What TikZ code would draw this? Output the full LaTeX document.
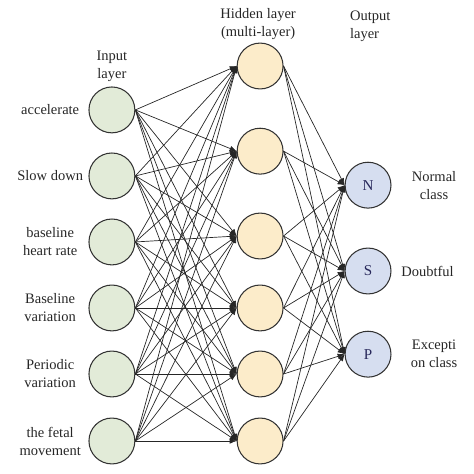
\documentclass[tikz,border=0pt]{standalone}
\usepackage{fontspec}
\setmainfont{Liberation Serif}
\usepackage{tikz}
\usetikzlibrary{arrows.meta, positioning}

\definecolor{inpgreen}{RGB}{226, 235, 216}
\definecolor{hidyellow}{RGB}{252, 236, 202}
\definecolor{outblue}{RGB}{214, 222, 240}
\definecolor{rimgray}{RGB}{50, 50, 50}

\tikzset{
  neuron/.style={circle, draw=rimgray, line width=0.9pt, minimum size=1.39cm, inner sep=0pt},
  inneuron/.style={neuron, fill=inpgreen},
  hidneuron/.style={neuron, fill=hidyellow},
  outneuron/.style={neuron, fill=outblue, font=\fontsize{13}{15}\selectfont, text=rimgray!80!blue},
  lbl/.style={align=center, font=\fontsize{12.5}{15.5}\selectfont, text=black!85},
  link/.style={-{Latex[length=2.1mm, width=1.7mm]}, line width=0.6pt, black!85}
}

\begin{document}
\begin{tikzpicture}
  \useasboundingbox (0, 0) rectangle (14.36, -14.36);

  % Input layer
  \node[inneuron] (in1) at (3.39, -3.33) {};
  \node[inneuron] (in2) at (3.39, -5.33) {};
  \node[inneuron] (in3) at (3.39, -7.33) {};
  \node[inneuron] (in4) at (3.39, -9.33) {};
  \node[inneuron] (in5) at (3.39, -11.33) {};
  \node[inneuron] (in6) at (3.39, -13.36) {};

  % Hidden layer
  \node[hidneuron] (hid1) at (7.88, -2.00) {};
  \node[hidneuron] (hid2) at (7.88, -4.58) {};
  \node[hidneuron] (hid3) at (7.88, -7.15) {};
  \node[hidneuron] (hid4) at (7.88, -9.33) {};
  \node[hidneuron] (hid5) at (7.88, -11.33) {};
  \node[hidneuron] (hid6) at (7.88, -13.36) {};

  % Output layer
  \node[outneuron] (out1) at (11.15, -5.61) {N};
  \node[outneuron] (out2) at (11.15, -8.21) {S};
  \node[outneuron] (out3) at (11.15, -10.73) {P};

  % Connections
  \foreach \i in {1,...,6}
    \foreach \j in {1,...,6}
      \draw[link] (in\i.east) -- (hid\j.west);
  \foreach \j in {1,...,6}
    \foreach \k in {1,2,3}
      \draw[link] (hid\j.east) -- (out\k.west);

  % Layer titles
  \node[lbl] (tin) at (3.39, -2.00) {Input\\layer};
  \node[lbl] (thid) at (7.82, -0.73) {Hidden layer\\(multi-layer)};
  \node[lbl, align=left, anchor=west] (tout) at (10.48, -0.79) {Output\\layer};

  % Input names
  \node[lbl] (nin1) at (1.52, -3.33) {accelerate};
  \node[lbl] (nin2) at (1.52, -5.33) {Slow down};
  \node[lbl] (nin3) at (1.52, -7.33) {baseline\\heart rate};
  \node[lbl] (nin4) at (1.52, -9.33) {Baseline\\variation};
  \node[lbl] (nin5) at (1.52, -11.33) {Periodic\\variation};
  \node[lbl] (nin6) at (1.52, -13.36) {the fetal\\movement};

  % Output classes
  \node[lbl] (nout1) at (13.15, -5.61) {Normal\\class};
  \node[lbl] (nout2) at (12.95, -8.21) {Doubtful};
  \node[lbl] (nout3) at (13.15, -10.73) {Excepti\\on class};
\end{tikzpicture}
\end{document}
